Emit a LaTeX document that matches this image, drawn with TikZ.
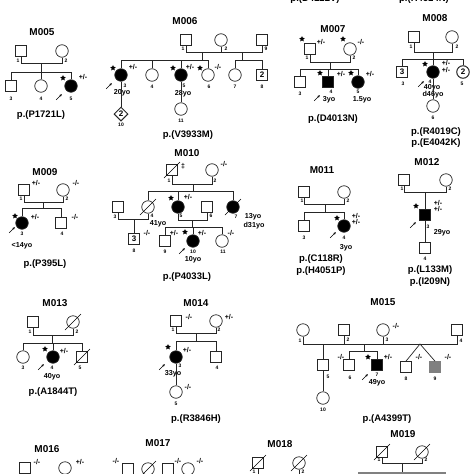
\documentclass[tikz,border=0pt]{standalone}
\usepackage{fontspec}
\setmainfont{Liberation Sans}
\usetikzlibrary{shapes.geometric,arrows.meta}
\tikzset{
 ln/.style={line width=0.7pt, draw=black!85},
 m/.style={draw=black!85, rectangle, minimum size=11pt, inner sep=0pt, line width=0.7pt},
 f/.style={draw=black!85, circle, minimum size=12.5pt, inner sep=0pt, line width=0.7pt},
 aff/.style={fill=black},
 inn/.style={font=\fontsize{8}{8}\selectfont\bfseries, line width=1pt},
 num/.style={font=\fontsize{5}{5}\selectfont\bfseries, inner sep=0pt},
 gt/.style={font=\fontsize{7}{7}\selectfont\bfseries, inner sep=0pt},
 age/.style={font=\fontsize{7.2}{8}\selectfont\bfseries, inner sep=0pt},
 ttl/.style={font=\fontsize{10}{12}\selectfont\bfseries, inner sep=0pt},
 var/.style={font=\fontsize{9.5}{11}\selectfont\bfseries, inner sep=0pt},
 st/.style={star, star points=5, star point ratio=2.1, fill=black, inner sep=0pt, minimum size=6pt},
 parr/.style={-{Stealth[length=2.6pt,width=2.4pt]}, line width=0.6pt},
}
\newcommand\tx[4]{\node[#1] at (#2,#3) {#4};}
\newcommand\sta[2]{\node[st] at (#1,#2) {};}
\newcommand\parw[2]{\draw[parr] (#1,#2) ++(-2.8,2.8) -- ++(5.6,-5.6);}
\newcommand\dead[1]{\draw[line width=0.6pt] (#1.center) ++(-8,8) -- ++(16,-16);}
\newcommand\cpl[3]{\path (0,#3) coordinate (tmp); \draw[ln] (#1.south) -- (#1.south |- tmp) -- (#2.south |- tmp) -- (#2.south);}
\newcommand\pfam[5]{\path (#1,#3) coordinate (tmpb); \draw[ln] (#1,#2) -- (tmpb); \draw[ln] (#4.north |- tmpb) -- (#5.north |- tmpb);}
\newcommand\kids[1]{\foreach \k in {#1} {\draw[ln] (\k.north) -- (\k.north |- tmpb);}}
\begin{document}
\begin{tikzpicture}[x=1pt,y=-1pt]
\fill[white] (0,0) rectangle (474,474);
\useasboundingbox (0,0) rectangle (474,474);
% top partial
\tx{var}{315}{-0.5}{p.(D4122V)}
\tx{var}{424}{-0.5}{p.(H4614N)}
% ---------- M005
\tx{ttl}{42}{32}{M005}
\node[m] (m5a) at (21,51) {};
\node[f] (m5b) at (62,51) {};
\cpl{m5a}{m5b}{63}
\tx{num}{18}{61}{1}\tx{num}{66}{61}{2}
\node[m] (m5c) at (11,86) {};
\node[f] (m5d) at (41,86) {};
\node[f,aff] (m5e) at (71,86) {};
\pfam{41}{63}{72}{m5c}{m5e}\kids{m5c,m5d,m5e}
\tx{num}{11}{99}{3}\tx{num}{41}{99}{4}\tx{num}{71}{99}{5}
\sta{63}{78}\tx{gt}{83}{77}{+/-}
\parw{59}{97}
\tx{var}{41}{115}{p.(P1721L)}
% ---------- M006
\tx{ttl}{185}{21}{M006}
\node[m] (m6a) at (186,40) {};
\node[f] (m6b) at (221,40) {};
\node[m] (m6c) at (262,40) {};
\cpl{m6a}{m6c}{52}\draw[ln] (m6b.south) -- (m6b.south |- tmp);
\tx{num}{183}{49}{1}\tx{num}{226}{49}{2}\tx{num}{266}{49}{9}
\node[f,aff] (m6d) at (121,75) {};
\node[f] (m6e) at (152,75) {};
\node[f,aff] (m6f) at (181,75) {};
\node[f] (m6g) at (208,75) {};
\pfam{202}{52}{60}{m6d}{m6g}\kids{m6d,m6e,m6f,m6g}
\node[f] (m6h) at (235,75) {};
\node[m,inn] (m6i) at (262,75) {2};
\pfam{242}{52}{60}{m6h}{m6i}\kids{m6h,m6i}
\tx{num}{125}{86}{3}\tx{num}{152}{87}{4}\tx{num}{184}{86}{5}\tx{num}{209}{87}{6}\tx{num}{235}{87}{7}\tx{num}{262}{87}{8}
\tx{age}{122}{93}{20yo}\tx{age}{183}{94}{28yo}
\sta{113}{68}\tx{gt}{133}{67}{+/-}
\sta{173}{68}\tx{gt}{190}{67}{+/-}
\sta{200}{68}\tx{gt}{218}{67}{-/-}
\parw{109}{86}
\node[draw=black!85, diamond, aspect=1, minimum size=14pt, inner sep=0pt, inn] (m6j) at (121,114) {2};
\draw[ln] (m6d.south) -- (m6j.north);
\tx{num}{121}{125}{10}
\node[f] (m6k) at (181,109) {};
\draw[ln] (m6f.south) -- (m6k.north);
\tx{num}{181}{121}{11}
\tx{var}{188}{135}{p.(V3933M)}
% ---------- M007
\tx{ttl}{333}{29}{M007}
\node[m] (m7a) at (310,49) {};
\node[f] (m7b) at (350,49) {};
\cpl{m7a}{m7b}{62}
\tx{num}{307}{58}{1}\tx{num}{354}{58}{2}
\sta{302}{39}\tx{gt}{321}{42}{+/-}
\sta{343}{39}\tx{gt}{361}{42}{-/-}
\node[m] (m7c) at (300,82) {};
\node[m,aff] (m7d) at (328,82) {};
\node[f,aff] (m7e) at (358,82) {};
\pfam{330}{62}{69}{m7c}{m7e}\kids{m7c,m7d,m7e}
\tx{num}{300}{94}{3}\tx{num}{331}{92}{4}\tx{num}{358}{92}{5}
\tx{age}{329}{100}{3yo}\tx{age}{362}{100}{1.5yo}
\sta{320}{73}\tx{gt}{341}{74}{+/-}
\sta{351}{73}\tx{gt}{370}{74}{+/-}
\parw{317}{98}
\tx{var}{333}{119}{p.(D4013N)}
% ---------- M008
\tx{ttl}{435}{18}{M008}
\node[m] (m8a) at (414,37) {};
\node[f] (m8b) at (452,37) {};
\cpl{m8a}{m8b}{52}
\tx{num}{411}{47}{1}\tx{num}{457}{47}{2}
\node[m,inn] (m8c) at (402,72) {3};
\node[f,aff] (m8d) at (433,72) {};
\node[f,inn] (m8e) at (463,72) {2};
\pfam{433}{52}{59}{m8c}{m8e}\kids{m8c,m8d,m8e}
\tx{num}{403}{84}{3}\tx{num}{430}{82}{4}\tx{num}{462}{84}{5}
\tx{age}{432}{88}{40yo}\tx{age}{433}{94.5}{d46yo}
\sta{425}{64}\tx{gt}{446}{63}{+/-}\tx{gt}{446}{70}{+/-}
\parw{421}{84}
\node[f] (m8f) at (433,106) {};
\draw[ln] (m8d.south) -- (m8f.north);
\tx{num}{433}{118}{6}
\tx{var}{436}{132}{p.(R4019C)}
\tx{var}{436}{143}{p.(E4042K)}
% ---------- M009
\tx{ttl}{45}{172}{M009}
\node[m] (m9a) at (24,190) {};
\node[f] (m9b) at (63,190) {};
\cpl{m9a}{m9b}{202}
\tx{gt}{36}{183}{+/-}\tx{gt}{76}{183}{-/-}
\tx{num}{21}{199}{1}\tx{num}{67}{199}{2}
\node[f,aff] (m9c) at (22,223) {};
\node[m] (m9d) at (61,223) {};
\pfam{43}{202}{208}{m9c}{m9d}\kids{m9c,m9d}
\sta{15}{216}\tx{gt}{35}{217}{+/-}\tx{gt}{75}{217}{-/-}
\tx{num}{22}{234}{3}\tx{num}{62}{234}{4}
\parw{12}{230}
\tx{age}{22}{246}{<14yo}
\tx{var}{45}{264}{p.(P395L)}
% ---------- M010
\tx{ttl}{187}{153}{M010}
\node[m] (m10a) at (172,170) {};\dead{m10a}
\node[f] (m10b) at (212,170) {};
\cpl{m10a}{m10b}{184}
\tx{gt}{183}{166}{‡}\tx{gt}{224}{164}{-/-}
\tx{num}{169}{181}{1}\tx{num}{215}{181}{2}
\node[f] (m10c) at (148,207) {};\dead{m10c}
\node[f,aff] (m10d) at (178,207) {};
\node[f,aff] (m10e) at (233,207) {};\dead{m10e}
\pfam{193}{184}{191}{m10c}{m10e}\kids{m10c,m10d,m10e}
\node[m] (m10f) at (207,207) {};
\node[m] (m10g) at (118,207) {};
\cpl{m10g}{m10c}{219}
\node[m,inn] (m10h) at (134,239) {3};
\draw[ln] (134,219) -- (m10h.north);
\tx{gt}{147}{233}{-/-}\tx{num}{134}{251}{8}
\tx{num}{115}{217}{3}\tx{num}{152}{216}{4}
\cpl{m10d}{m10f}{220}
\tx{num}{181}{216}{5}\tx{num}{211}{216}{6}\tx{num}{236}{217}{7}
\tx{age}{158}{224}{41yo}
\sta{171}{198}\tx{gt}{188}{197}{+/-}
\tx{age}{253}{217}{13yo}\tx{age}{254}{226}{d31yo}
\node[m] (m10i) at (165,241) {};
\node[f,aff] (m10j) at (193,241) {};
\node[f] (m10k) at (222,241) {};
\pfam{192}{220}{227}{m10i}{m10k}\kids{m10i,m10j,m10k}
\tx{gt}{174}{233}{+/-}\sta{185}{232}\tx{gt}{202}{233}{+/-}\tx{gt}{231}{233}{-/-}
\tx{num}{165}{252}{9}\tx{num}{193}{252}{10}\tx{num}{223}{252}{11}
\parw{182}{251}
\tx{age}{193}{260}{10yo}
\tx{var}{187}{277}{p.(P4033L)}
% ---------- M011
\tx{ttl}{322}{170}{M011}
\node[m] (m11a) at (304,192) {};
\node[f] (m11b) at (344,192) {};
\cpl{m11a}{m11b}{204}
\tx{num}{302}{201}{1}\tx{num}{348}{201}{2}
\node[m] (m11c) at (304,226) {};
\node[f,aff] (m11d) at (344,226) {};
\pfam{325}{204}{212}{m11c}{m11d}\kids{m11c,m11d}
\sta{337}{218}\tx{gt}{356}{216}{+/-}\tx{gt}{356}{222}{+/-}
\tx{num}{304}{238}{3}\tx{num}{344}{238}{4}
\parw{333}{235}
\tx{age}{346}{248}{3yo}
\tx{var}{321}{259}{p.(C118R)}
\tx{var}{321}{271}{p.(H4051P)}
% ---------- M012
\tx{ttl}{427}{162}{M012}
\node[m] (m12a) at (404,180) {};
\node[f] (m12b) at (446,180) {};
\cpl{m12a}{m12b}{192}
\tx{num}{402}{189}{1}\tx{num}{450}{189}{2}
\node[m,aff] (m12c) at (425,215) {};
\draw[ln] (425,192) -- (m12c.north);
\sta{416}{206}\tx{gt}{438}{203}{+/-}\tx{gt}{438}{209}{+/-}
\tx{num}{428}{227}{3}
\parw{413}{225}
\tx{age}{442}{233}{29yo}
\node[m] (m12d) at (425,248) {};
\draw[ln] (m12c.south) -- (m12d.north);
\tx{num}{425}{259}{4}
\tx{var}{430}{270}{p.(L133M)}
\tx{var}{430}{282}{p.(I209N)}
% ---------- M013
\tx{ttl}{55}{303}{M013}
\node[m] (m13a) at (33,322) {};
\node[f] (m13b) at (73,322) {};\dead{m13b}
\cpl{m13a}{m13b}{335}
\tx{num}{30}{332}{1}\tx{num}{77}{332}{2}
\node[f] (m13c) at (23,357) {};
\node[f,aff] (m13d) at (53,357) {};
\node[m] (m13e) at (82,357) {};\dead{m13e}
\pfam{52}{335}{343}{m13c}{m13e}\kids{m13c,m13d,m13e}
\sta{45}{349}\tx{gt}{64}{351}{+/-}
\tx{num}{23}{368}{3}\tx{num}{52}{368}{4}\tx{num}{80}{368}{5}
\parw{41}{367}
\tx{age}{52}{377}{40yo}
\tx{var}{53}{392}{p.(A1844T)}
% ---------- M014
\tx{ttl}{196}{303}{M014}
\node[m] (m14a) at (176,321) {};
\node[f] (m14b) at (216,321) {};
\cpl{m14a}{m14b}{333}
\tx{gt}{189}{317}{-/-}\tx{gt}{229}{317}{+/-}
\tx{num}{173}{330}{1}\tx{num}{219}{330}{2}
\node[f,aff] (m14c) at (176,357) {};
\node[m] (m14d) at (216,357) {};
\pfam{196}{333}{341}{m14c}{m14d}\kids{m14c,m14d}
\sta{168}{347}\tx{gt}{187}{350}{+/-}
\tx{num}{180}{366}{3}\tx{num}{217}{368}{4}
\parw{162}{367}
\tx{age}{173}{374}{33yo}
\node[f] (m14e) at (176,392) {};
\draw[ln] (m14c.south) -- (m14e.north);
\tx{gt}{188}{387}{-/-}\tx{num}{176}{404}{5}
\tx{var}{196}{419}{p.(R3846H)}
% ---------- M015
\tx{ttl}{383}{302}{M015}
\node[f] (m15a) at (303,330) {};
\node[m] (m15b) at (344,330) {};
\node[f] (m15c) at (383,330) {};
\node[m] (m15d) at (457,330) {};
\cpl{m15a}{m15d}{344}
\draw[ln] (m15b.south) -- (m15b.south |- tmp);
\draw[ln] (m15c.south) -- (m15c.south |- tmp);
\tx{gt}{396}{326}{-/-}
\tx{num}{300}{341}{1}\tx{num}{348}{340}{2}\tx{num}{387}{340}{3}\tx{num}{461}{341}{4}
\node[m] (m15e) at (323,365) {};
\draw[ln] (323,344) -- (m15e.north);
\tx{num}{328}{377}{5}
\node[f] (m15f) at (323,398) {};
\draw[ln] (m15e.south) -- (m15f.north);
\tx{num}{323}{410}{10}
\node[m] (m15g) at (349,365) {};
\node[m,aff] (m15h) at (377,365) {};
\pfam{364}{344}{351}{m15g}{m15h}\kids{m15g,m15h}
\tx{gt}{341}{357}{-/-}\sta{368}{357}\tx{gt}{388}{357}{+/-}
\tx{num}{350}{378}{6}\tx{num}{377}{375}{7}
\parw{365}{377}
\tx{age}{377}{383}{49yo}
\coordinate (tw) at (420,344);
\node[m] (m15i) at (406,367) {};
\node[m,fill=black!50,draw=black!50] (m15j) at (435,367) {};
\draw[ln] (m15i.north) -- (tw) -- (m15j.north);
\tx{gt}{419}{357}{-/-}\tx{gt}{448}{357}{-/-}
\tx{num}{406}{379}{8}\tx{num}{435}{379}{9}
\tx{var}{387}{419}{p.(A4399T)}
% ---------- M016
\tx{ttl}{47}{449}{M016}
\node[m] (m16a) at (25,468) {};
\node[f] (m16b) at (65,468) {};
\tx{gt}{37}{462}{-/-}\tx{gt}{80}{462}{+/-}
% ---------- M017
\tx{ttl}{158}{443}{M017}
\node[m] (m17a) at (128,469) {};
\node[f] (m17b) at (148,469) {};\dead{m17b}
\node[m] (m17c) at (168,469) {};
\node[f] (m17d) at (188,469) {};
\tx{gt}{116}{461}{-/-}\tx{gt}{178}{461}{-/-}\tx{gt}{200}{461}{-/-}
% ---------- M018
\tx{ttl}{280}{444}{M018}
\node[m] (m18a) at (258,463) {};\dead{m18a}
\node[f] (m18b) at (299,463) {};\dead{m18b}
\draw[ln] (m18a.south) -- ++(0,10);
\draw[ln] (m18b.south) -- ++(0,10);
\tx{num}{254}{472}{1}\tx{num}{303}{472}{2}
% ---------- M019
\tx{ttl}{403}{434}{M019}
\node[m] (m19a) at (382,452) {};\dead{m19a}
\node[f] (m19b) at (422,452) {};\dead{m19b}
\cpl{m19a}{m19b}{463}
\tx{num}{379}{460}{1}\tx{num}{426}{460}{2}
\coordinate (bar) at (402,473);
\draw[ln] (402,463) -- (bar);
\draw[line width=3pt, draw=black!50] (358,473) -- (bar) -- (446,473);
\end{tikzpicture}
\end{document}
